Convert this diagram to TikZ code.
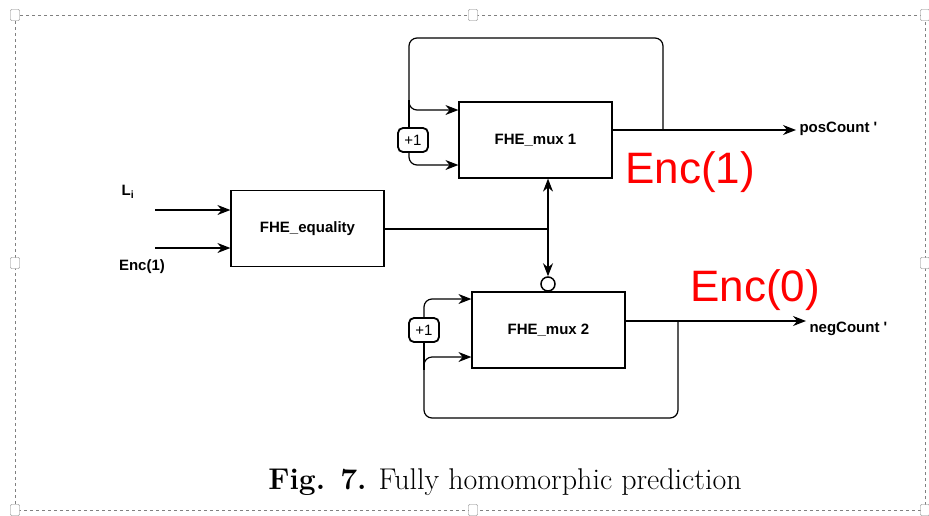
\documentclass[tikz,border=0pt]{standalone}
\usepackage{fontspec}
\newfontfamily\lbl{Liberation Sans}
\usetikzlibrary{arrows.meta}
\begin{document}
\begin{tikzpicture}[x=1pt,y=-1pt,
  blk/.style={draw,line width=1.2pt,minimum width=153pt,minimum height=76pt,font=\lbl\bfseries\fontsize{15}{17}\selectfont},
  inc/.style={draw,line width=1.8pt,rounded corners=5pt,minimum width=30pt,minimum height=24pt,inner sep=0pt,font=\lbl\fontsize{15}{17}\selectfont},
  wire/.style={line width=1.2pt,rounded corners=8pt},
  arr/.style={wire,-{Stealth[length=13pt,width=10pt]}},
  txt/.style={font=\lbl\bfseries\fontsize{15}{17}\selectfont},
  hand/.style={red,font=\lbl\fontsize{44}{48}\selectfont},
  handle/.style={draw=gray,fill=white,minimum width=9pt,minimum height=11pt,inner sep=0pt,rounded corners=1pt}]
\useasboundingbox (0,0) rectangle (929,515);
\draw[gray,dashed,thick] (15,15) rectangle (925,510);
\foreach \p/\q in {15/15,473/15,925/15,15/263,925/263,15/510,473/510,925/510}
  \node[handle] at (\p,\q) {};
% blocks
\node[blk] (m1) at (535.5,140) {FHE\_mux 1};
\node[blk] (eq) at (307.5,228.5) {FHE\_equality};
\node[blk] (m2) at (548.5,330) {FHE\_mux 2};
\node[inc] (i1) at (413,140) {+1};
\node[inc] (i2) at (424,330) {+1};
\node[circle,draw,line width=1.5pt,minimum size=14pt,inner sep=0pt] (c) at (548,284) {};
% inputs
\node[txt] (li) at (128,192) {L\textsubscript{i}};
\node[txt] (e1) at (142,267) {Enc(1)};
\coordinate (a1) at (155,210);
\coordinate (a2) at (155,248);
\draw[arr] (a1) -- (eq.west |- a1);
\draw[arr] (a2) -- (eq.west |- a2);
% equality output
\coordinate (j) at (548,229);
\draw[line width=1.2pt] (eq.east |- j) -- (j);
\draw[arr] (j) -- (m1.south -| j);
\draw[arr] (j) -- (c.north);
% outputs
\node[txt,anchor=west] (pc) at (796,129) {posCount '};
\node[txt,anchor=west] (nc) at (806,329) {negCount '};
\draw[arr] (m1.east |- 0,130) -- (pc.west |- 0,130);
\draw[arr] (m2.east |- 0,321) -- (nc.west |- 0,321);
% top loop
\draw[arr] (663,130) -- (663,38) -- (409,38) -- (409,110) -- (m1.west |- 0,110);
\draw[line width=1.2pt] (409,100) -- (i1.north -| 409,0);
\draw[arr] (i1.south -| 409,0) -- (409,165) -- (m1.west |- 0,165);
% bottom loop
\draw[arr] (678,321) -- (678,418) -- (424,418) -- (424,357) -- (m2.west |- 0,357);
\draw[arr] (i2.north) -- (424,299) -- (m2.west |- 0,299);
\draw[line width=1.2pt] (i2.south) -- (424,370);
% handwritten
\node[hand] (h1) at (690,172) {Enc(1)};
\node[hand] (h2) at (755,290) {Enc(0)};
% caption
\node (cap) at (505,482) {\fontsize{30}{34}\selectfont\textbf{Fig. 7.} Fully homomorphic prediction};
\end{tikzpicture}
\end{document}
